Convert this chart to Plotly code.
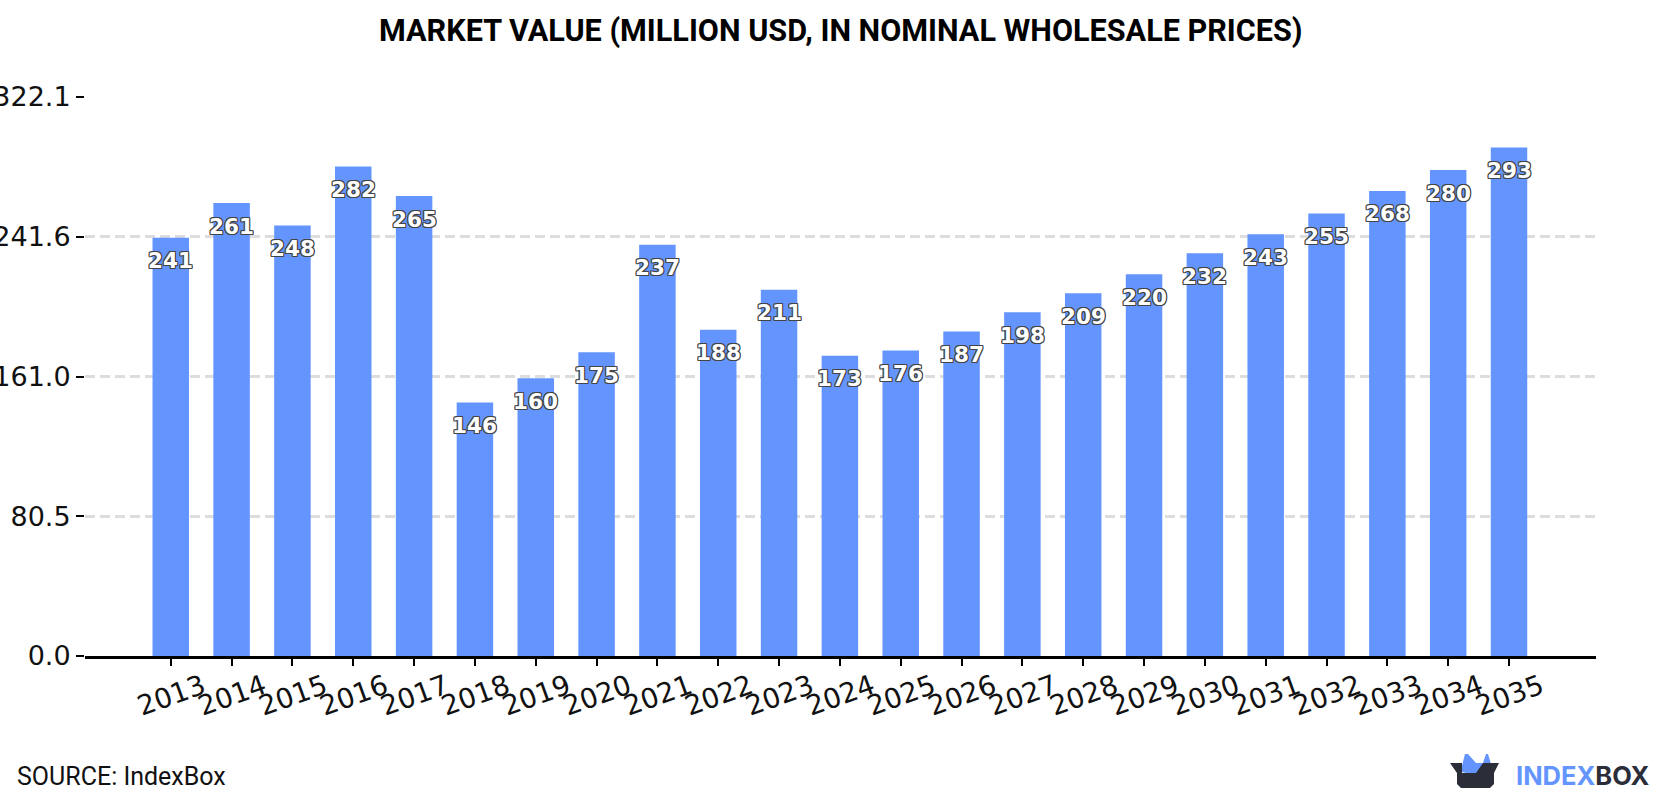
import plotly.graph_objects as go

years = [str(y) for y in range(2013, 2036)]
values = [241, 261, 248, 282, 265, 146, 160, 175, 237, 188, 211, 173, 176, 187,
          198, 209, 220, 232, 243, 255, 268, 280, 293]
y_ticks = [0.0, 80.5, 161.0, 241.6, 322.1]
y_tick_labels = ["0.0", "80.5", "161.0", "241.6", "322.1"]

BLUE = "#6495FF"
DARK = "#2B2D38"
OUTLINE = ("-1px -1px 0 #444, 1px -1px 0 #444, -1px 1px 0 #444, 1px 1px 0 #444, "
           "0 1px 0 #444, 1px 0 0 #444, -1px 0 0 #444, 0 -1px 0 #444")

fig = go.Figure(go.Bar(x=years, y=values, marker=dict(color=BLUE, line_width=0), width=0.6,
                       hoverinfo="x+y"))

# Value labels sit just under the top of each bar; category axes place annotations by index
for index, value in enumerate(values):
    fig.add_annotation(x=index, y=value, text=str(value), showarrow=False, yshift=-23,
                       yanchor="middle", xanchor="center",
                       font=dict(family="DejaVu Sans", size=21.5, color="white",
                                 weight="bold", shadow=OUTLINE))

# Page title and source line
fig.add_annotation(xref="paper", yref="paper", x=0.5, y=1, yshift=66, yanchor="middle",
                   text="<b>MARKET VALUE (MILLION USD, IN NOMINAL WHOLESALE PRICES)</b>",
                   showarrow=False, font=dict(family="Roboto", size=30.6, color="#000"))
fig.add_annotation(xref="paper", yref="paper", x=0, xshift=-70, xanchor="left", y=0, yshift=-120,
                   yanchor="middle", text="SOURCE: IndexBox", showarrow=False,
                   font=dict(family="Roboto", size=25, color="#111"))


def px(x, y):
    """Convert page pixels to paper coordinates for the brand mark."""
    return f"{(x - 85) / 1511:.5f} {(656 - y) / 559:.5f}"


# Brand mark in the lower right corner
ear = [(1462, 766), (1465, 754), (1468, 754), (1476, 763), (1483, 763), (1486, 754), (1488, 754),
       (1491, 764), (1478, 772), (1475, 775), (1462, 772)]
box = [(1450, 763), (1462, 763), (1462, 773), (1476, 773), (1483, 763), (1499, 763), (1494, 773),
       (1494, 784), (1490, 788), (1461, 788), (1457, 784), (1457, 773)]
for pts, color in ((ear, BLUE), (box, DARK)):
    fig.add_shape(type="path", xref="paper", yref="paper", line_width=0, fillcolor=color,
                  path="M " + " L ".join(px(*p) for p in pts) + " Z")
fig.add_annotation(xref="paper", yref="paper", x=(1514 - 85) / 1511, xanchor="left", y=0, yshift=-119,
                   yanchor="middle", showarrow=False,
                   text=f"<b><span style='color:{BLUE}'>INDEX</span><span style='color:{DARK}'>BOX</span></b>",
                   font=dict(family="Inter", size=25.5))

fig.update_layout(
    width=1680, height=800, autosize=False,
    margin=dict(l=85, r=84, t=97, b=144, pad=0),
    paper_bgcolor="white", plot_bgcolor="white", showlegend=False,
    bargap=0.4,
    xaxis=dict(type="category", categoryorder="array", categoryarray=years, automargin=False,
               range=[-1.41, 23.43], tickangle=-20, ticks="outside", ticklen=7, tickwidth=2,
               tickcolor="#000", showline=True, linecolor="#000", linewidth=3, showgrid=False,
               tickfont=dict(family="DejaVu Sans", size=27.5, color="#111"), ticklabelshift=32,
               ticklabelstandoff=-6),
    yaxis=dict(range=[0, 322.1], tickvals=y_ticks, ticktext=y_tick_labels, ticks="outside",
               automargin=False, ticklen=8, tickwidth=2, tickcolor="#000", showline=False,
               zeroline=False, showgrid=True, gridcolor="#DDDDDD", gridwidth=3,
               griddash="10px,5px",
               tickfont=dict(family="DejaVu Sans", size=27, color="#111")),
)

fig.write_html("out.html")
